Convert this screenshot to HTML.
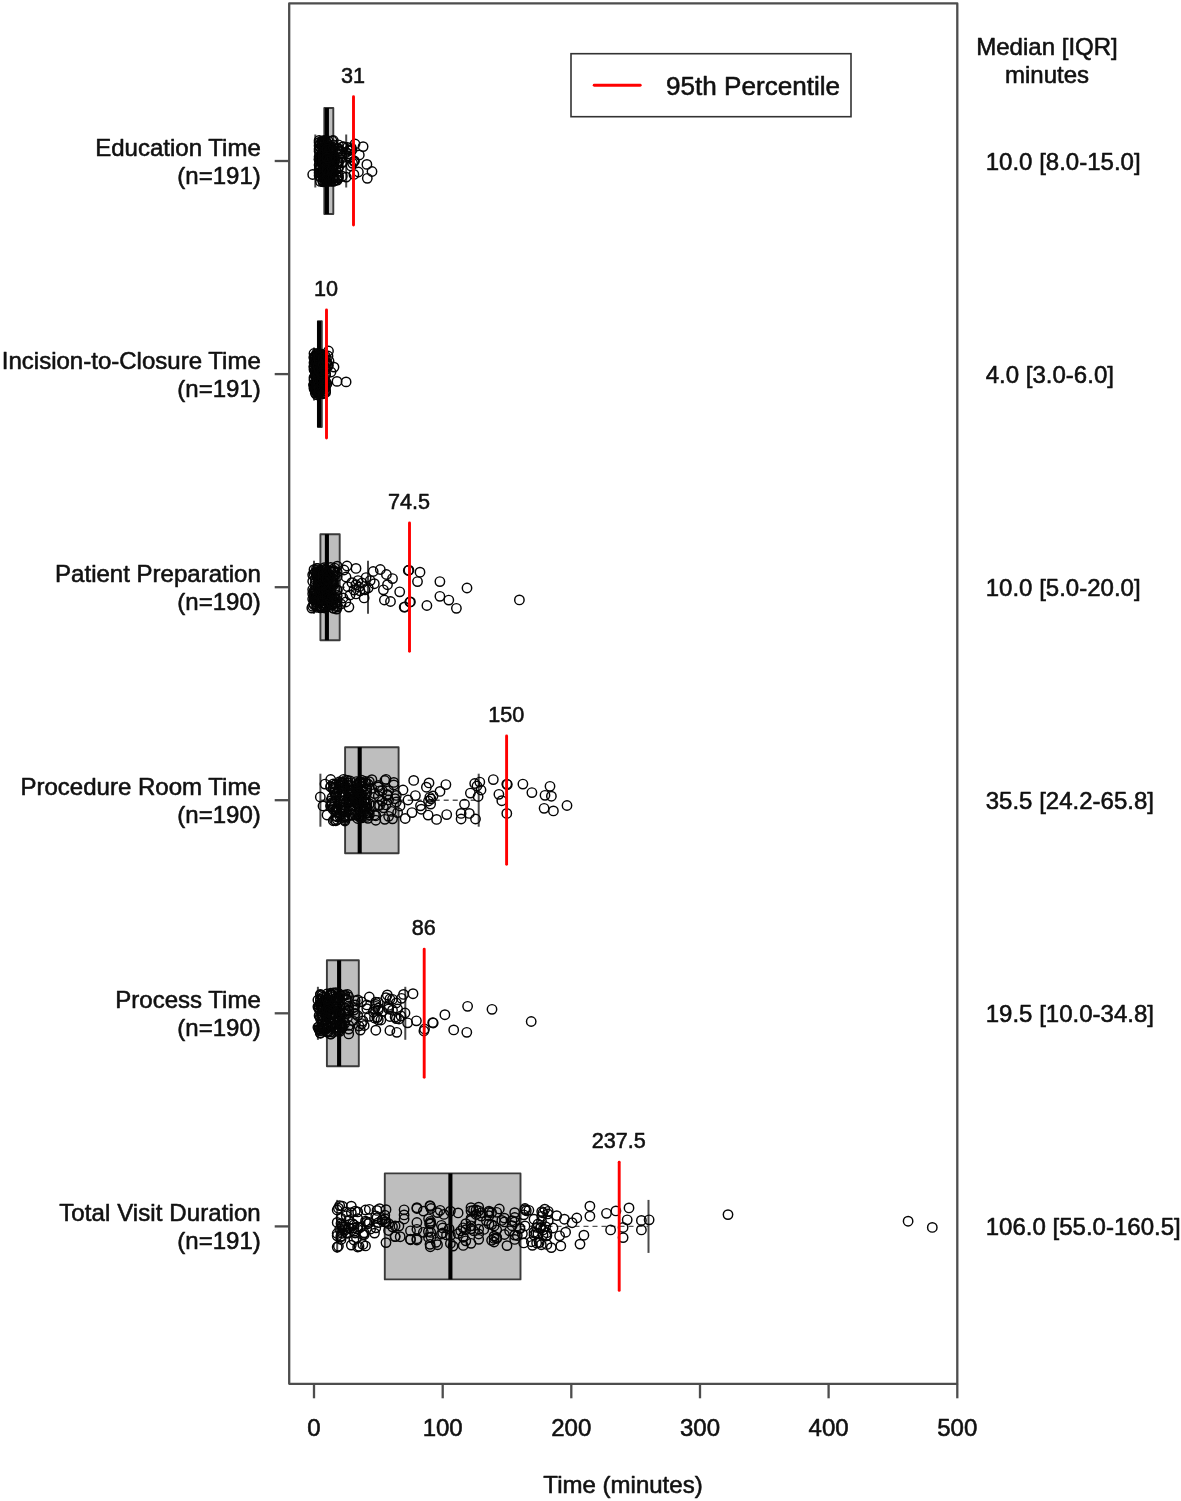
<!DOCTYPE html>
<html><head><meta charset="utf-8"><title>Time boxplot</title>
<style>
html,body{margin:0;padding:0;background:#fff}
svg{display:block;filter:blur(.45px)}
text{font-family:"Liberation Sans",Arial,Helvetica,sans-serif;fill:#111;stroke:#111;stroke-width:.55;stroke-linejoin:round}
.fr{stroke:#4d4d4d;stroke-width:2.3;fill:none;stroke-linejoin:round;stroke-linecap:butt}
.pt{fill:none;stroke:#050505;stroke-width:1.45}
.bx{fill:#bebebe;stroke:#3a3a3a;stroke-width:1.9;stroke-linejoin:round}
.md{stroke:#000;stroke-width:4.1}
.wh{stroke:#555;stroke-width:1.4;stroke-dasharray:5 4;fill:none}
.cp{stroke:#4a4a4a;stroke-width:2}
.rd{stroke:#f00;stroke-width:2.9;stroke-linecap:round}
</style></head><body>
<svg width="1181" height="1501" viewBox="0 0 1181 1501">
<rect width="1181" height="1501" fill="#fff"/>

<rect class="fr" x="289.2" y="3.4" width="668.1" height="1380.4"/>
<line class="fr" x1="314.0" y1="1383.8" x2="314.0" y2="1398.3"/>
<text transform="translate(314.0 1435.5) scale(1.045 1)" font-size="23.0" text-anchor="middle">0</text>
<line class="fr" x1="442.7" y1="1383.8" x2="442.7" y2="1398.3"/>
<text transform="translate(442.7 1435.5) scale(1.045 1)" font-size="23.0" text-anchor="middle">100</text>
<line class="fr" x1="571.3" y1="1383.8" x2="571.3" y2="1398.3"/>
<text transform="translate(571.3 1435.5) scale(1.045 1)" font-size="23.0" text-anchor="middle">200</text>
<line class="fr" x1="700.0" y1="1383.8" x2="700.0" y2="1398.3"/>
<text transform="translate(700.0 1435.5) scale(1.045 1)" font-size="23.0" text-anchor="middle">300</text>
<line class="fr" x1="828.6" y1="1383.8" x2="828.6" y2="1398.3"/>
<text transform="translate(828.6 1435.5) scale(1.045 1)" font-size="23.0" text-anchor="middle">400</text>
<line class="fr" x1="957.3" y1="1383.8" x2="957.3" y2="1398.3"/>
<text transform="translate(957.3 1435.5) scale(1.045 1)" font-size="23.0" text-anchor="middle">500</text>
<text transform="translate(623.0 1492.5) scale(1.045 1)" font-size="23.0" text-anchor="middle">Time (minutes)</text>
<line class="fr" x1="274.7" y1="161.0" x2="289.2" y2="161.0"/>
<text transform="translate(260.8 155.7) scale(1.045 1)" font-size="23.0" text-anchor="end">Education Time</text>
<text transform="translate(260.8 183.8) scale(1.045 1)" font-size="23.0" text-anchor="end">(n=191)</text>
<text transform="translate(985.7 169.7) scale(1.045 1)" font-size="23.0">10.0 [8.0-15.0]</text>
<rect class="bx" x="324.3" y="108.0" width="9.0" height="106.0"/>
<line class="md" x1="326.9" y1="108.0" x2="326.9" y2="214.0"/>
<line class="wh" x1="315.3" y1="161.0" x2="324.3" y2="161.0"/>
<line class="wh" x1="333.3" y1="161.0" x2="346.2" y2="161.0"/>
<line class="cp" x1="315.3" y1="134.5" x2="315.3" y2="187.5"/>
<line class="cp" x1="346.2" y1="134.5" x2="346.2" y2="187.5"/>
<g class="pt"><circle cx="323.0" cy="176.4" r="4.7"/><circle cx="323.0" cy="159.0" r="4.7"/><circle cx="320.4" cy="147.8" r="4.7"/><circle cx="323.0" cy="166.5" r="4.7"/><circle cx="320.4" cy="144.0" r="4.7"/><circle cx="321.7" cy="146.0" r="4.7"/><circle cx="319.1" cy="165.0" r="4.7"/><circle cx="323.0" cy="180.5" r="4.7"/><circle cx="320.4" cy="166.2" r="4.7"/><circle cx="319.1" cy="142.5" r="4.7"/><circle cx="320.4" cy="176.9" r="4.7"/><circle cx="319.1" cy="172.7" r="4.7"/><circle cx="321.7" cy="158.5" r="4.7"/><circle cx="320.4" cy="161.8" r="4.7"/><circle cx="321.7" cy="161.0" r="4.7"/><circle cx="319.1" cy="159.2" r="4.7"/><circle cx="321.7" cy="157.1" r="4.7"/><circle cx="319.1" cy="169.7" r="4.7"/><circle cx="321.7" cy="171.8" r="4.7"/><circle cx="321.7" cy="141.2" r="4.7"/><circle cx="319.1" cy="156.8" r="4.7"/><circle cx="321.7" cy="156.2" r="4.7"/><circle cx="319.1" cy="175.6" r="4.7"/><circle cx="319.1" cy="149.0" r="4.7"/><circle cx="319.1" cy="159.7" r="4.7"/><circle cx="323.0" cy="157.6" r="4.7"/><circle cx="320.4" cy="172.7" r="4.7"/><circle cx="321.7" cy="154.1" r="4.7"/><circle cx="321.7" cy="154.0" r="4.7"/><circle cx="323.0" cy="171.8" r="4.7"/><circle cx="319.1" cy="145.7" r="4.7"/><circle cx="319.1" cy="140.5" r="4.7"/><circle cx="323.0" cy="173.5" r="4.7"/><circle cx="320.4" cy="168.6" r="4.7"/><circle cx="320.4" cy="158.8" r="4.7"/><circle cx="320.4" cy="181.4" r="4.7"/><circle cx="320.4" cy="157.6" r="4.7"/><circle cx="323.0" cy="144.9" r="4.7"/><circle cx="323.0" cy="181.6" r="4.7"/><circle cx="319.1" cy="151.3" r="4.7"/><circle cx="325.6" cy="181.9" r="4.7"/><circle cx="323.0" cy="148.8" r="4.7"/><circle cx="326.9" cy="181.8" r="4.7"/><circle cx="323.0" cy="141.8" r="4.7"/><circle cx="324.3" cy="149.0" r="4.7"/><circle cx="325.6" cy="140.4" r="4.7"/><circle cx="325.6" cy="174.9" r="4.7"/><circle cx="326.9" cy="143.1" r="4.7"/><circle cx="323.0" cy="148.8" r="4.7"/><circle cx="324.3" cy="140.7" r="4.7"/><circle cx="325.6" cy="155.6" r="4.7"/><circle cx="326.9" cy="145.3" r="4.7"/><circle cx="326.9" cy="175.0" r="4.7"/><circle cx="324.3" cy="176.4" r="4.7"/><circle cx="324.3" cy="166.3" r="4.7"/><circle cx="325.6" cy="178.2" r="4.7"/><circle cx="324.3" cy="170.5" r="4.7"/><circle cx="324.3" cy="171.1" r="4.7"/><circle cx="324.3" cy="168.9" r="4.7"/><circle cx="326.9" cy="177.1" r="4.7"/><circle cx="323.0" cy="157.7" r="4.7"/><circle cx="323.0" cy="144.6" r="4.7"/><circle cx="325.6" cy="150.0" r="4.7"/><circle cx="326.9" cy="150.8" r="4.7"/><circle cx="326.9" cy="152.3" r="4.7"/><circle cx="324.3" cy="179.0" r="4.7"/><circle cx="323.0" cy="145.3" r="4.7"/><circle cx="326.9" cy="163.5" r="4.7"/><circle cx="323.0" cy="151.8" r="4.7"/><circle cx="324.3" cy="171.5" r="4.7"/><circle cx="323.0" cy="151.3" r="4.7"/><circle cx="326.9" cy="150.5" r="4.7"/><circle cx="323.0" cy="147.4" r="4.7"/><circle cx="325.6" cy="162.3" r="4.7"/><circle cx="324.3" cy="143.9" r="4.7"/><circle cx="324.3" cy="177.4" r="4.7"/><circle cx="325.6" cy="167.6" r="4.7"/><circle cx="324.3" cy="164.8" r="4.7"/><circle cx="323.0" cy="159.9" r="4.7"/><circle cx="325.6" cy="169.4" r="4.7"/><circle cx="323.0" cy="140.9" r="4.7"/><circle cx="323.0" cy="160.3" r="4.7"/><circle cx="325.6" cy="153.4" r="4.7"/><circle cx="323.0" cy="143.2" r="4.7"/><circle cx="325.6" cy="171.0" r="4.7"/><circle cx="324.3" cy="173.3" r="4.7"/><circle cx="325.6" cy="154.8" r="4.7"/><circle cx="326.9" cy="177.8" r="4.7"/><circle cx="326.9" cy="179.7" r="4.7"/><circle cx="323.0" cy="176.3" r="4.7"/><circle cx="323.0" cy="166.2" r="4.7"/><circle cx="326.9" cy="155.9" r="4.7"/><circle cx="323.0" cy="165.6" r="4.7"/><circle cx="323.0" cy="143.8" r="4.7"/><circle cx="323.0" cy="181.7" r="4.7"/><circle cx="326.9" cy="170.6" r="4.7"/><circle cx="326.9" cy="179.2" r="4.7"/><circle cx="326.9" cy="158.5" r="4.7"/><circle cx="323.0" cy="161.8" r="4.7"/><circle cx="323.0" cy="153.0" r="4.7"/><circle cx="323.0" cy="160.2" r="4.7"/><circle cx="324.3" cy="180.2" r="4.7"/><circle cx="323.0" cy="160.9" r="4.7"/><circle cx="326.9" cy="150.7" r="4.7"/><circle cx="323.0" cy="155.5" r="4.7"/><circle cx="324.3" cy="168.5" r="4.7"/><circle cx="324.3" cy="161.8" r="4.7"/><circle cx="325.6" cy="167.7" r="4.7"/><circle cx="326.9" cy="160.9" r="4.7"/><circle cx="324.3" cy="153.7" r="4.7"/><circle cx="333.3" cy="150.5" r="4.7"/><circle cx="333.3" cy="158.1" r="4.7"/><circle cx="328.2" cy="177.0" r="4.7"/><circle cx="330.7" cy="149.2" r="4.7"/><circle cx="329.4" cy="148.8" r="4.7"/><circle cx="328.2" cy="160.9" r="4.7"/><circle cx="326.9" cy="169.9" r="4.7"/><circle cx="329.4" cy="174.5" r="4.7"/><circle cx="326.9" cy="158.9" r="4.7"/><circle cx="329.4" cy="178.9" r="4.7"/><circle cx="330.7" cy="156.1" r="4.7"/><circle cx="332.0" cy="160.7" r="4.7"/><circle cx="329.4" cy="170.1" r="4.7"/><circle cx="332.0" cy="159.0" r="4.7"/><circle cx="326.9" cy="174.8" r="4.7"/><circle cx="329.4" cy="176.7" r="4.7"/><circle cx="326.9" cy="168.5" r="4.7"/><circle cx="329.4" cy="164.0" r="4.7"/><circle cx="329.4" cy="167.3" r="4.7"/><circle cx="332.0" cy="140.8" r="4.7"/><circle cx="328.2" cy="157.0" r="4.7"/><circle cx="328.2" cy="141.0" r="4.7"/><circle cx="329.4" cy="150.0" r="4.7"/><circle cx="328.2" cy="173.5" r="4.7"/><circle cx="333.3" cy="144.8" r="4.7"/><circle cx="326.9" cy="166.5" r="4.7"/><circle cx="333.3" cy="166.9" r="4.7"/><circle cx="329.4" cy="180.3" r="4.7"/><circle cx="333.3" cy="148.3" r="4.7"/><circle cx="330.7" cy="150.8" r="4.7"/><circle cx="333.3" cy="140.5" r="4.7"/><circle cx="330.7" cy="162.5" r="4.7"/><circle cx="326.9" cy="147.5" r="4.7"/><circle cx="329.4" cy="172.7" r="4.7"/><circle cx="332.0" cy="169.3" r="4.7"/><circle cx="332.0" cy="161.0" r="4.7"/><circle cx="328.2" cy="156.5" r="4.7"/><circle cx="333.3" cy="178.1" r="4.7"/><circle cx="326.9" cy="157.2" r="4.7"/><circle cx="333.3" cy="156.3" r="4.7"/><circle cx="330.7" cy="159.0" r="4.7"/><circle cx="333.3" cy="177.3" r="4.7"/><circle cx="326.9" cy="155.8" r="4.7"/><circle cx="332.0" cy="167.4" r="4.7"/><circle cx="332.0" cy="173.5" r="4.7"/><circle cx="329.4" cy="159.5" r="4.7"/><circle cx="333.3" cy="181.3" r="4.7"/><circle cx="326.9" cy="170.3" r="4.7"/><circle cx="333.3" cy="178.8" r="4.7"/><circle cx="326.9" cy="149.0" r="4.7"/><circle cx="330.7" cy="181.2" r="4.7"/><circle cx="329.4" cy="162.6" r="4.7"/><circle cx="329.4" cy="151.0" r="4.7"/><circle cx="333.3" cy="175.9" r="4.7"/><circle cx="329.4" cy="161.2" r="4.7"/><circle cx="326.9" cy="158.5" r="4.7"/><circle cx="332.0" cy="157.7" r="4.7"/><circle cx="329.4" cy="160.5" r="4.7"/><circle cx="326.9" cy="149.2" r="4.7"/><circle cx="326.9" cy="158.0" r="4.7"/><circle cx="333.3" cy="147.3" r="4.7"/><circle cx="335.9" cy="168.8" r="4.7"/><circle cx="334.6" cy="159.8" r="4.7"/><circle cx="338.4" cy="177.8" r="4.7"/><circle cx="338.4" cy="175.3" r="4.7"/><circle cx="337.2" cy="179.7" r="4.7"/><circle cx="337.2" cy="164.3" r="4.7"/><circle cx="333.3" cy="171.8" r="4.7"/><circle cx="337.2" cy="162.1" r="4.7"/><circle cx="335.9" cy="174.9" r="4.7"/><circle cx="338.4" cy="166.8" r="4.7"/><circle cx="338.4" cy="161.6" r="4.7"/><circle cx="338.4" cy="150.8" r="4.7"/><circle cx="337.2" cy="180.1" r="4.7"/><circle cx="338.4" cy="148.7" r="4.7"/><circle cx="334.6" cy="180.7" r="4.7"/><circle cx="338.4" cy="151.5" r="4.7"/><circle cx="337.2" cy="148.4" r="4.7"/><circle cx="338.4" cy="144.8" r="4.7"/><circle cx="333.3" cy="165.4" r="4.7"/><circle cx="338.4" cy="162.5" r="4.7"/><circle cx="338.4" cy="161.6" r="4.7"/><circle cx="342.3" cy="162.7" r="4.7"/><circle cx="343.6" cy="146.6" r="4.7"/><circle cx="338.4" cy="168.3" r="4.7"/><circle cx="338.4" cy="177.4" r="4.7"/><circle cx="342.3" cy="157.7" r="4.7"/><circle cx="346.2" cy="177.1" r="4.7"/><circle cx="341.0" cy="151.4" r="4.7"/><circle cx="342.3" cy="146.8" r="4.7"/><circle cx="342.3" cy="176.2" r="4.7"/><circle cx="342.3" cy="161.9" r="4.7"/><circle cx="338.4" cy="149.3" r="4.7"/><circle cx="351.3" cy="147.8" r="4.7"/><circle cx="348.7" cy="150.6" r="4.7"/><circle cx="353.9" cy="174.4" r="4.7"/><circle cx="346.2" cy="152.4" r="4.7"/><circle cx="347.5" cy="147.3" r="4.7"/><circle cx="348.7" cy="156.0" r="4.7"/><circle cx="348.7" cy="153.8" r="4.7"/><circle cx="350.0" cy="149.9" r="4.7"/><circle cx="352.6" cy="163.3" r="4.7"/><circle cx="353.9" cy="161.3" r="4.7"/><circle cx="312.7" cy="174.5" r="4.7"/><circle cx="363.1" cy="146.6" r="4.7"/><circle cx="366.9" cy="164.4" r="4.7"/><circle cx="372.0" cy="171.5" r="4.7"/><circle cx="367.3" cy="178.3" r="4.7"/><circle cx="358.4" cy="172.0" r="4.7"/><circle cx="355.0" cy="144.0" r="4.7"/><circle cx="359.3" cy="155.0" r="4.7"/><circle cx="352.0" cy="150.0" r="4.7"/><circle cx="351.0" cy="166.0" r="4.7"/><circle cx="354.5" cy="161.0" r="4.7"/><circle cx="349.0" cy="158.0" r="4.7"/></g>
<line class="rd" x1="353.5" y1="96.8" x2="353.5" y2="225.0"/>
<text transform="translate(353.1 83.0) scale(1.000 1)" font-size="21.6" text-anchor="middle">31</text>
<line class="fr" x1="274.7" y1="374.1" x2="289.2" y2="374.1"/>
<text transform="translate(260.8 368.8) scale(1.045 1)" font-size="23.0" text-anchor="end">Incision-to-Closure Time</text>
<text transform="translate(260.8 396.9) scale(1.045 1)" font-size="23.0" text-anchor="end">(n=191)</text>
<text transform="translate(985.7 382.8) scale(1.045 1)" font-size="23.0">4.0 [3.0-6.0]</text>
<rect class="bx" x="317.9" y="321.1" width="3.9" height="106.0"/>
<line class="md" x1="319.1" y1="321.1" x2="319.1" y2="427.1"/>
<line class="wh" x1="314.0" y1="374.1" x2="317.9" y2="374.1"/>
<line class="wh" x1="321.7" y1="374.1" x2="326.9" y2="374.1"/>
<line class="cp" x1="314.0" y1="347.6" x2="314.0" y2="400.6"/>
<line class="cp" x1="326.9" y1="347.6" x2="326.9" y2="400.6"/>
<g class="pt"><circle cx="316.6" cy="383.2" r="4.7"/><circle cx="317.9" cy="354.1" r="4.7"/><circle cx="317.9" cy="387.8" r="4.7"/><circle cx="315.3" cy="375.7" r="4.7"/><circle cx="315.3" cy="375.3" r="4.7"/><circle cx="315.3" cy="362.9" r="4.7"/><circle cx="316.6" cy="391.0" r="4.7"/><circle cx="316.6" cy="378.4" r="4.7"/><circle cx="315.3" cy="362.3" r="4.7"/><circle cx="315.3" cy="390.4" r="4.7"/><circle cx="315.3" cy="390.4" r="4.7"/><circle cx="315.3" cy="383.6" r="4.7"/><circle cx="316.6" cy="369.4" r="4.7"/><circle cx="317.9" cy="388.1" r="4.7"/><circle cx="317.9" cy="375.9" r="4.7"/><circle cx="315.3" cy="361.5" r="4.7"/><circle cx="314.0" cy="357.1" r="4.7"/><circle cx="316.6" cy="391.4" r="4.7"/><circle cx="316.6" cy="357.9" r="4.7"/><circle cx="316.6" cy="374.2" r="4.7"/><circle cx="315.3" cy="386.8" r="4.7"/><circle cx="317.9" cy="357.6" r="4.7"/><circle cx="314.0" cy="385.1" r="4.7"/><circle cx="317.9" cy="359.3" r="4.7"/><circle cx="315.3" cy="357.9" r="4.7"/><circle cx="315.3" cy="388.4" r="4.7"/><circle cx="316.6" cy="392.0" r="4.7"/><circle cx="314.0" cy="377.5" r="4.7"/><circle cx="315.3" cy="393.1" r="4.7"/><circle cx="317.9" cy="356.4" r="4.7"/><circle cx="314.0" cy="366.8" r="4.7"/><circle cx="317.9" cy="371.0" r="4.7"/><circle cx="316.6" cy="371.2" r="4.7"/><circle cx="316.6" cy="353.7" r="4.7"/><circle cx="314.0" cy="388.6" r="4.7"/><circle cx="315.3" cy="370.2" r="4.7"/><circle cx="316.6" cy="384.2" r="4.7"/><circle cx="317.9" cy="391.8" r="4.7"/><circle cx="315.3" cy="357.1" r="4.7"/><circle cx="314.0" cy="366.7" r="4.7"/><circle cx="314.0" cy="386.8" r="4.7"/><circle cx="317.9" cy="377.0" r="4.7"/><circle cx="315.3" cy="374.3" r="4.7"/><circle cx="316.6" cy="386.9" r="4.7"/><circle cx="316.6" cy="364.8" r="4.7"/><circle cx="314.0" cy="384.4" r="4.7"/><circle cx="315.3" cy="387.3" r="4.7"/><circle cx="317.9" cy="358.7" r="4.7"/><circle cx="316.6" cy="390.1" r="4.7"/><circle cx="316.6" cy="385.3" r="4.7"/><circle cx="315.3" cy="370.1" r="4.7"/><circle cx="315.3" cy="356.1" r="4.7"/><circle cx="316.6" cy="365.8" r="4.7"/><circle cx="314.0" cy="353.5" r="4.7"/><circle cx="316.6" cy="394.7" r="4.7"/><circle cx="314.0" cy="362.8" r="4.7"/><circle cx="316.6" cy="367.3" r="4.7"/><circle cx="317.9" cy="377.0" r="4.7"/><circle cx="314.0" cy="369.5" r="4.7"/><circle cx="317.9" cy="380.1" r="4.7"/><circle cx="314.0" cy="385.1" r="4.7"/><circle cx="314.0" cy="357.9" r="4.7"/><circle cx="314.0" cy="384.1" r="4.7"/><circle cx="316.6" cy="371.7" r="4.7"/><circle cx="314.0" cy="385.1" r="4.7"/><circle cx="317.9" cy="353.6" r="4.7"/><circle cx="316.6" cy="363.6" r="4.7"/><circle cx="316.6" cy="376.2" r="4.7"/><circle cx="317.9" cy="393.7" r="4.7"/><circle cx="314.0" cy="379.9" r="4.7"/><circle cx="317.9" cy="376.2" r="4.7"/><circle cx="317.9" cy="369.3" r="4.7"/><circle cx="319.1" cy="369.3" r="4.7"/><circle cx="319.1" cy="389.0" r="4.7"/><circle cx="317.9" cy="371.1" r="4.7"/><circle cx="321.7" cy="370.8" r="4.7"/><circle cx="321.7" cy="378.2" r="4.7"/><circle cx="320.4" cy="375.4" r="4.7"/><circle cx="321.7" cy="380.6" r="4.7"/><circle cx="320.4" cy="381.0" r="4.7"/><circle cx="320.4" cy="354.2" r="4.7"/><circle cx="319.1" cy="377.7" r="4.7"/><circle cx="319.1" cy="370.3" r="4.7"/><circle cx="321.7" cy="355.3" r="4.7"/><circle cx="320.4" cy="384.5" r="4.7"/><circle cx="317.9" cy="377.5" r="4.7"/><circle cx="320.4" cy="356.2" r="4.7"/><circle cx="319.1" cy="371.1" r="4.7"/><circle cx="321.7" cy="363.6" r="4.7"/><circle cx="319.1" cy="355.0" r="4.7"/><circle cx="317.9" cy="392.5" r="4.7"/><circle cx="321.7" cy="359.2" r="4.7"/><circle cx="319.1" cy="378.5" r="4.7"/><circle cx="317.9" cy="355.2" r="4.7"/><circle cx="321.7" cy="372.2" r="4.7"/><circle cx="319.1" cy="389.3" r="4.7"/><circle cx="320.4" cy="375.3" r="4.7"/><circle cx="317.9" cy="368.4" r="4.7"/><circle cx="319.1" cy="381.2" r="4.7"/><circle cx="321.7" cy="378.3" r="4.7"/><circle cx="321.7" cy="368.4" r="4.7"/><circle cx="319.1" cy="393.1" r="4.7"/><circle cx="319.1" cy="363.1" r="4.7"/><circle cx="317.9" cy="374.2" r="4.7"/><circle cx="320.4" cy="386.0" r="4.7"/><circle cx="320.4" cy="364.6" r="4.7"/><circle cx="319.1" cy="379.7" r="4.7"/><circle cx="319.1" cy="361.1" r="4.7"/><circle cx="319.1" cy="374.2" r="4.7"/><circle cx="319.1" cy="390.0" r="4.7"/><circle cx="317.9" cy="379.5" r="4.7"/><circle cx="317.9" cy="364.5" r="4.7"/><circle cx="321.7" cy="354.2" r="4.7"/><circle cx="317.9" cy="357.4" r="4.7"/><circle cx="320.4" cy="356.1" r="4.7"/><circle cx="317.9" cy="391.4" r="4.7"/><circle cx="319.1" cy="376.2" r="4.7"/><circle cx="320.4" cy="373.4" r="4.7"/><circle cx="320.4" cy="361.9" r="4.7"/><circle cx="320.4" cy="373.9" r="4.7"/><circle cx="319.1" cy="388.3" r="4.7"/><circle cx="317.9" cy="386.8" r="4.7"/><circle cx="321.7" cy="387.1" r="4.7"/><circle cx="319.1" cy="371.8" r="4.7"/><circle cx="320.4" cy="369.5" r="4.7"/><circle cx="319.1" cy="368.6" r="4.7"/><circle cx="320.4" cy="365.3" r="4.7"/><circle cx="319.1" cy="371.1" r="4.7"/><circle cx="320.4" cy="377.5" r="4.7"/><circle cx="321.7" cy="389.9" r="4.7"/><circle cx="317.9" cy="375.9" r="4.7"/><circle cx="321.7" cy="376.8" r="4.7"/><circle cx="321.7" cy="387.3" r="4.7"/><circle cx="321.7" cy="365.7" r="4.7"/><circle cx="317.9" cy="356.3" r="4.7"/><circle cx="319.1" cy="391.3" r="4.7"/><circle cx="317.9" cy="382.3" r="4.7"/><circle cx="321.7" cy="383.5" r="4.7"/><circle cx="320.4" cy="365.0" r="4.7"/><circle cx="319.1" cy="362.3" r="4.7"/><circle cx="320.4" cy="368.5" r="4.7"/><circle cx="317.9" cy="366.6" r="4.7"/><circle cx="321.7" cy="377.0" r="4.7"/><circle cx="320.4" cy="371.5" r="4.7"/><circle cx="320.4" cy="372.3" r="4.7"/><circle cx="319.1" cy="369.9" r="4.7"/><circle cx="319.1" cy="356.6" r="4.7"/><circle cx="320.4" cy="354.1" r="4.7"/><circle cx="321.7" cy="377.7" r="4.7"/><circle cx="319.1" cy="384.1" r="4.7"/><circle cx="320.4" cy="386.6" r="4.7"/><circle cx="319.1" cy="388.2" r="4.7"/><circle cx="319.1" cy="360.5" r="4.7"/><circle cx="321.7" cy="390.1" r="4.7"/><circle cx="320.4" cy="387.2" r="4.7"/><circle cx="323.0" cy="374.7" r="4.7"/><circle cx="323.0" cy="376.8" r="4.7"/><circle cx="321.7" cy="380.1" r="4.7"/><circle cx="325.6" cy="356.7" r="4.7"/><circle cx="324.3" cy="385.6" r="4.7"/><circle cx="321.7" cy="367.5" r="4.7"/><circle cx="324.3" cy="383.6" r="4.7"/><circle cx="324.3" cy="357.5" r="4.7"/><circle cx="323.0" cy="358.0" r="4.7"/><circle cx="325.6" cy="363.9" r="4.7"/><circle cx="323.0" cy="373.7" r="4.7"/><circle cx="324.3" cy="384.7" r="4.7"/><circle cx="325.6" cy="368.1" r="4.7"/><circle cx="324.3" cy="381.0" r="4.7"/><circle cx="325.6" cy="373.6" r="4.7"/><circle cx="321.7" cy="382.4" r="4.7"/><circle cx="321.7" cy="370.5" r="4.7"/><circle cx="324.3" cy="388.2" r="4.7"/><circle cx="325.6" cy="387.5" r="4.7"/><circle cx="325.6" cy="392.4" r="4.7"/><circle cx="321.7" cy="375.1" r="4.7"/><circle cx="321.7" cy="386.2" r="4.7"/><circle cx="325.6" cy="391.0" r="4.7"/><circle cx="323.0" cy="363.9" r="4.7"/><circle cx="323.0" cy="393.7" r="4.7"/><circle cx="325.6" cy="381.5" r="4.7"/><circle cx="324.3" cy="362.3" r="4.7"/><circle cx="325.6" cy="375.3" r="4.7"/><circle cx="324.3" cy="392.9" r="4.7"/><circle cx="321.7" cy="373.0" r="4.7"/><circle cx="328.2" cy="364.9" r="4.7"/><circle cx="328.2" cy="365.8" r="4.7"/><circle cx="325.6" cy="384.0" r="4.7"/><circle cx="326.9" cy="362.5" r="4.7"/><circle cx="326.9" cy="383.9" r="4.7"/><circle cx="325.6" cy="369.6" r="4.7"/><circle cx="328.5" cy="351.0" r="4.7"/><circle cx="328.0" cy="356.0" r="4.7"/><circle cx="329.0" cy="361.0" r="4.7"/><circle cx="327.5" cy="365.0" r="4.7"/><circle cx="346.1" cy="381.9" r="4.7"/><circle cx="337.0" cy="381.4" r="4.7"/><circle cx="334.0" cy="367.1" r="4.7"/><circle cx="331.0" cy="372.0" r="4.7"/></g>
<line class="rd" x1="326.5" y1="309.9" x2="326.5" y2="438.1"/>
<text transform="translate(326.1 296.1) scale(1.000 1)" font-size="21.6" text-anchor="middle">10</text>
<line class="fr" x1="274.7" y1="587.2" x2="289.2" y2="587.2"/>
<text transform="translate(260.8 581.9) scale(1.045 1)" font-size="23.0" text-anchor="end">Patient Preparation</text>
<text transform="translate(260.8 610.0) scale(1.045 1)" font-size="23.0" text-anchor="end">(n=190)</text>
<text transform="translate(985.7 595.9) scale(1.045 1)" font-size="23.0">10.0 [5.0-20.0]</text>
<rect class="bx" x="320.4" y="534.2" width="19.3" height="106.0"/>
<line class="md" x1="326.9" y1="534.2" x2="326.9" y2="640.2"/>
<line class="wh" x1="314.0" y1="587.2" x2="320.4" y2="587.2"/>
<line class="wh" x1="339.7" y1="587.2" x2="368.0" y2="587.2"/>
<line class="cp" x1="314.0" y1="560.7" x2="314.0" y2="613.7"/>
<line class="cp" x1="368.0" y1="560.7" x2="368.0" y2="613.7"/>
<g class="pt"><circle cx="314.0" cy="574.0" r="4.7"/><circle cx="314.0" cy="590.9" r="4.7"/><circle cx="317.9" cy="596.3" r="4.7"/><circle cx="317.9" cy="587.6" r="4.7"/><circle cx="316.6" cy="574.0" r="4.7"/><circle cx="315.3" cy="583.1" r="4.7"/><circle cx="320.4" cy="605.6" r="4.7"/><circle cx="319.1" cy="589.2" r="4.7"/><circle cx="320.4" cy="589.3" r="4.7"/><circle cx="320.4" cy="577.1" r="4.7"/><circle cx="316.6" cy="604.6" r="4.7"/><circle cx="315.3" cy="593.9" r="4.7"/><circle cx="320.4" cy="606.4" r="4.7"/><circle cx="316.6" cy="602.4" r="4.7"/><circle cx="316.6" cy="568.3" r="4.7"/><circle cx="314.0" cy="599.9" r="4.7"/><circle cx="316.6" cy="607.2" r="4.7"/><circle cx="320.4" cy="587.9" r="4.7"/><circle cx="315.3" cy="599.3" r="4.7"/><circle cx="312.7" cy="593.8" r="4.7"/><circle cx="314.0" cy="603.7" r="4.7"/><circle cx="320.4" cy="586.1" r="4.7"/><circle cx="315.3" cy="585.1" r="4.7"/><circle cx="314.0" cy="596.2" r="4.7"/><circle cx="317.9" cy="602.9" r="4.7"/><circle cx="316.6" cy="572.8" r="4.7"/><circle cx="315.3" cy="572.3" r="4.7"/><circle cx="320.4" cy="600.2" r="4.7"/><circle cx="314.0" cy="593.0" r="4.7"/><circle cx="317.9" cy="577.4" r="4.7"/><circle cx="317.9" cy="568.4" r="4.7"/><circle cx="317.9" cy="598.6" r="4.7"/><circle cx="312.7" cy="574.8" r="4.7"/><circle cx="320.4" cy="572.5" r="4.7"/><circle cx="314.0" cy="569.7" r="4.7"/><circle cx="315.3" cy="592.0" r="4.7"/><circle cx="317.9" cy="570.3" r="4.7"/><circle cx="316.6" cy="595.3" r="4.7"/><circle cx="312.7" cy="606.3" r="4.7"/><circle cx="317.9" cy="589.0" r="4.7"/><circle cx="317.9" cy="579.0" r="4.7"/><circle cx="320.4" cy="574.1" r="4.7"/><circle cx="314.0" cy="604.7" r="4.7"/><circle cx="312.7" cy="599.0" r="4.7"/><circle cx="316.6" cy="575.0" r="4.7"/><circle cx="317.9" cy="583.6" r="4.7"/><circle cx="316.6" cy="572.8" r="4.7"/><circle cx="320.4" cy="606.7" r="4.7"/><circle cx="315.3" cy="579.3" r="4.7"/><circle cx="312.7" cy="589.6" r="4.7"/><circle cx="316.6" cy="594.2" r="4.7"/><circle cx="312.7" cy="581.3" r="4.7"/><circle cx="319.1" cy="572.1" r="4.7"/><circle cx="319.1" cy="582.8" r="4.7"/><circle cx="316.6" cy="597.6" r="4.7"/><circle cx="320.4" cy="601.0" r="4.7"/><circle cx="319.1" cy="584.9" r="4.7"/><circle cx="320.4" cy="582.0" r="4.7"/><circle cx="319.1" cy="586.2" r="4.7"/><circle cx="315.3" cy="589.9" r="4.7"/><circle cx="316.6" cy="598.6" r="4.7"/><circle cx="320.4" cy="607.8" r="4.7"/><circle cx="320.4" cy="596.4" r="4.7"/><circle cx="317.9" cy="572.6" r="4.7"/><circle cx="326.9" cy="582.0" r="4.7"/><circle cx="325.6" cy="597.7" r="4.7"/><circle cx="323.0" cy="597.9" r="4.7"/><circle cx="325.6" cy="594.2" r="4.7"/><circle cx="323.0" cy="574.1" r="4.7"/><circle cx="324.3" cy="596.9" r="4.7"/><circle cx="323.0" cy="579.2" r="4.7"/><circle cx="323.0" cy="589.8" r="4.7"/><circle cx="326.9" cy="593.1" r="4.7"/><circle cx="324.3" cy="600.9" r="4.7"/><circle cx="320.4" cy="570.5" r="4.7"/><circle cx="325.6" cy="570.2" r="4.7"/><circle cx="326.9" cy="592.7" r="4.7"/><circle cx="321.7" cy="573.8" r="4.7"/><circle cx="324.3" cy="567.7" r="4.7"/><circle cx="324.3" cy="591.1" r="4.7"/><circle cx="320.4" cy="570.4" r="4.7"/><circle cx="320.4" cy="572.8" r="4.7"/><circle cx="320.4" cy="584.4" r="4.7"/><circle cx="320.4" cy="580.5" r="4.7"/><circle cx="324.3" cy="605.1" r="4.7"/><circle cx="321.7" cy="593.4" r="4.7"/><circle cx="321.7" cy="600.7" r="4.7"/><circle cx="324.3" cy="586.5" r="4.7"/><circle cx="324.3" cy="592.4" r="4.7"/><circle cx="326.9" cy="583.0" r="4.7"/><circle cx="326.9" cy="579.5" r="4.7"/><circle cx="321.7" cy="593.9" r="4.7"/><circle cx="325.6" cy="588.5" r="4.7"/><circle cx="323.0" cy="580.1" r="4.7"/><circle cx="323.0" cy="579.1" r="4.7"/><circle cx="324.3" cy="570.7" r="4.7"/><circle cx="324.3" cy="574.8" r="4.7"/><circle cx="323.0" cy="599.3" r="4.7"/><circle cx="320.4" cy="591.9" r="4.7"/><circle cx="321.7" cy="576.9" r="4.7"/><circle cx="325.6" cy="604.1" r="4.7"/><circle cx="325.6" cy="576.0" r="4.7"/><circle cx="325.6" cy="587.2" r="4.7"/><circle cx="321.7" cy="590.3" r="4.7"/><circle cx="321.7" cy="607.6" r="4.7"/><circle cx="325.6" cy="608.1" r="4.7"/><circle cx="326.9" cy="601.3" r="4.7"/><circle cx="321.7" cy="590.0" r="4.7"/><circle cx="320.4" cy="592.5" r="4.7"/><circle cx="321.7" cy="598.8" r="4.7"/><circle cx="321.7" cy="576.5" r="4.7"/><circle cx="325.6" cy="583.7" r="4.7"/><circle cx="323.0" cy="580.0" r="4.7"/><circle cx="323.0" cy="577.4" r="4.7"/><circle cx="320.4" cy="585.2" r="4.7"/><circle cx="326.9" cy="571.9" r="4.7"/><circle cx="325.6" cy="589.0" r="4.7"/><circle cx="325.6" cy="568.9" r="4.7"/><circle cx="323.0" cy="573.3" r="4.7"/><circle cx="333.3" cy="607.9" r="4.7"/><circle cx="329.4" cy="591.5" r="4.7"/><circle cx="326.9" cy="605.4" r="4.7"/><circle cx="326.9" cy="578.3" r="4.7"/><circle cx="329.4" cy="576.3" r="4.7"/><circle cx="332.0" cy="581.5" r="4.7"/><circle cx="328.2" cy="574.0" r="4.7"/><circle cx="332.0" cy="600.3" r="4.7"/><circle cx="330.7" cy="567.5" r="4.7"/><circle cx="328.2" cy="599.1" r="4.7"/><circle cx="333.3" cy="572.0" r="4.7"/><circle cx="333.3" cy="601.8" r="4.7"/><circle cx="330.7" cy="592.0" r="4.7"/><circle cx="333.3" cy="600.0" r="4.7"/><circle cx="326.9" cy="572.9" r="4.7"/><circle cx="330.7" cy="585.9" r="4.7"/><circle cx="328.2" cy="588.4" r="4.7"/><circle cx="326.9" cy="590.1" r="4.7"/><circle cx="328.2" cy="580.3" r="4.7"/><circle cx="328.2" cy="577.3" r="4.7"/><circle cx="332.0" cy="605.3" r="4.7"/><circle cx="326.9" cy="593.2" r="4.7"/><circle cx="326.9" cy="596.5" r="4.7"/><circle cx="328.2" cy="583.1" r="4.7"/><circle cx="330.7" cy="591.4" r="4.7"/><circle cx="330.7" cy="580.7" r="4.7"/><circle cx="332.0" cy="604.5" r="4.7"/><circle cx="332.0" cy="598.0" r="4.7"/><circle cx="329.4" cy="586.6" r="4.7"/><circle cx="330.7" cy="601.4" r="4.7"/><circle cx="333.3" cy="583.4" r="4.7"/><circle cx="330.7" cy="571.1" r="4.7"/><circle cx="326.9" cy="604.2" r="4.7"/><circle cx="332.0" cy="580.1" r="4.7"/><circle cx="332.0" cy="584.4" r="4.7"/><circle cx="326.9" cy="579.7" r="4.7"/><circle cx="326.9" cy="578.6" r="4.7"/><circle cx="332.0" cy="604.0" r="4.7"/><circle cx="333.3" cy="582.0" r="4.7"/><circle cx="329.4" cy="597.8" r="4.7"/><circle cx="335.9" cy="603.3" r="4.7"/><circle cx="333.3" cy="576.5" r="4.7"/><circle cx="337.2" cy="576.4" r="4.7"/><circle cx="337.2" cy="607.0" r="4.7"/><circle cx="337.2" cy="595.4" r="4.7"/><circle cx="334.6" cy="589.1" r="4.7"/><circle cx="337.2" cy="605.7" r="4.7"/><circle cx="333.3" cy="608.2" r="4.7"/><circle cx="335.9" cy="602.6" r="4.7"/><circle cx="337.2" cy="589.9" r="4.7"/><circle cx="334.6" cy="575.5" r="4.7"/><circle cx="337.2" cy="590.0" r="4.7"/><circle cx="333.3" cy="570.3" r="4.7"/><circle cx="334.6" cy="571.4" r="4.7"/><circle cx="337.2" cy="566.2" r="4.7"/><circle cx="334.6" cy="596.8" r="4.7"/><circle cx="333.3" cy="579.8" r="4.7"/><circle cx="333.3" cy="584.7" r="4.7"/><circle cx="337.2" cy="600.4" r="4.7"/><circle cx="337.2" cy="572.1" r="4.7"/><circle cx="334.6" cy="568.1" r="4.7"/><circle cx="333.3" cy="585.3" r="4.7"/><circle cx="519.4" cy="599.9" r="4.7"/><circle cx="467.0" cy="588.0" r="4.7"/><circle cx="456.4" cy="608.3" r="4.7"/><circle cx="448.8" cy="600.1" r="4.7"/><circle cx="439.9" cy="596.3" r="4.7"/><circle cx="439.9" cy="581.6" r="4.7"/><circle cx="426.9" cy="605.5" r="4.7"/><circle cx="420.0" cy="572.2" r="4.7"/><circle cx="417.5" cy="581.6" r="4.7"/><circle cx="408.9" cy="570.2" r="4.7"/><circle cx="410.4" cy="601.9" r="4.7"/><circle cx="404.8" cy="607.0" r="4.7"/><circle cx="356.0" cy="568.4" r="4.7"/><circle cx="348.9" cy="607.1" r="4.7"/><circle cx="345.8" cy="602.0" r="4.7"/><circle cx="336.7" cy="609.1" r="4.7"/><circle cx="311.8" cy="608.1" r="4.7"/><circle cx="380.3" cy="569.5" r="4.7"/><circle cx="386.4" cy="574.5" r="4.7"/><circle cx="392.5" cy="578.6" r="4.7"/><circle cx="383.4" cy="589.8" r="4.7"/><circle cx="387.5" cy="584.7" r="4.7"/><circle cx="399.7" cy="591.8" r="4.7"/><circle cx="384.4" cy="600.0" r="4.7"/><circle cx="390.5" cy="601.5" r="4.7"/><circle cx="404.2" cy="607.1" r="4.7"/><circle cx="409.8" cy="602.0" r="4.7"/><circle cx="408.3" cy="570.5" r="4.7"/><circle cx="373.2" cy="571.5" r="4.7"/><circle cx="370.2" cy="580.6" r="4.7"/><circle cx="366.1" cy="577.6" r="4.7"/><circle cx="358.0" cy="580.6" r="4.7"/><circle cx="356.0" cy="584.7" r="4.7"/><circle cx="360.0" cy="590.8" r="4.7"/><circle cx="356.0" cy="593.9" r="4.7"/><circle cx="364.1" cy="597.9" r="4.7"/><circle cx="368.2" cy="587.8" r="4.7"/><circle cx="374.3" cy="583.7" r="4.7"/><circle cx="351.9" cy="582.7" r="4.7"/><circle cx="347.8" cy="586.7" r="4.7"/><circle cx="365.1" cy="589.8" r="4.7"/><circle cx="362.0" cy="583.0" r="4.7"/><circle cx="359.0" cy="587.0" r="4.7"/><circle cx="354.0" cy="590.0" r="4.7"/><circle cx="350.0" cy="595.0" r="4.7"/><circle cx="346.0" cy="577.0" r="4.7"/><circle cx="344.0" cy="570.0" r="4.7"/><circle cx="347.0" cy="566.0" r="4.7"/><circle cx="343.0" cy="598.0" r="4.7"/><circle cx="341.0" cy="604.0" r="4.7"/></g>
<line class="rd" x1="409.5" y1="523.0" x2="409.5" y2="651.2"/>
<text transform="translate(409.1 509.2) scale(1.000 1)" font-size="21.6" text-anchor="middle">74.5</text>
<line class="fr" x1="274.7" y1="800.2" x2="289.2" y2="800.2"/>
<text transform="translate(260.8 794.9) scale(1.045 1)" font-size="23.0" text-anchor="end">Procedure Room Time</text>
<text transform="translate(260.8 823.0) scale(1.045 1)" font-size="23.0" text-anchor="end">(n=190)</text>
<text transform="translate(985.7 808.9) scale(1.045 1)" font-size="23.0">35.5 [24.2-65.8]</text>
<rect class="bx" x="345.1" y="747.2" width="53.5" height="106.0"/>
<line class="md" x1="359.7" y1="747.2" x2="359.7" y2="853.2"/>
<line class="wh" x1="320.4" y1="800.2" x2="345.1" y2="800.2"/>
<line class="wh" x1="398.7" y1="800.2" x2="478.7" y2="800.2"/>
<line class="cp" x1="320.4" y1="773.7" x2="320.4" y2="826.7"/>
<line class="cp" x1="478.7" y1="773.7" x2="478.7" y2="826.7"/>
<g class="pt"><circle cx="337.2" cy="792.1" r="4.7"/><circle cx="339.7" cy="785.2" r="4.7"/><circle cx="339.7" cy="816.1" r="4.7"/><circle cx="334.6" cy="791.6" r="4.7"/><circle cx="344.9" cy="816.9" r="4.7"/><circle cx="334.6" cy="792.5" r="4.7"/><circle cx="337.2" cy="817.0" r="4.7"/><circle cx="330.7" cy="786.4" r="4.7"/><circle cx="344.9" cy="821.0" r="4.7"/><circle cx="334.6" cy="801.6" r="4.7"/><circle cx="334.6" cy="787.2" r="4.7"/><circle cx="330.7" cy="806.5" r="4.7"/><circle cx="335.9" cy="809.7" r="4.7"/><circle cx="337.2" cy="819.6" r="4.7"/><circle cx="335.9" cy="815.7" r="4.7"/><circle cx="344.9" cy="816.1" r="4.7"/><circle cx="337.2" cy="808.4" r="4.7"/><circle cx="339.7" cy="796.6" r="4.7"/><circle cx="333.3" cy="788.6" r="4.7"/><circle cx="335.9" cy="784.3" r="4.7"/><circle cx="344.9" cy="787.5" r="4.7"/><circle cx="333.3" cy="809.4" r="4.7"/><circle cx="341.0" cy="807.1" r="4.7"/><circle cx="335.9" cy="794.8" r="4.7"/><circle cx="343.6" cy="801.2" r="4.7"/><circle cx="332.0" cy="804.0" r="4.7"/><circle cx="334.6" cy="820.2" r="4.7"/><circle cx="333.3" cy="807.2" r="4.7"/><circle cx="335.9" cy="784.8" r="4.7"/><circle cx="343.6" cy="783.0" r="4.7"/><circle cx="332.0" cy="797.7" r="4.7"/><circle cx="341.0" cy="782.3" r="4.7"/><circle cx="330.7" cy="779.5" r="4.7"/><circle cx="342.3" cy="791.2" r="4.7"/><circle cx="335.9" cy="797.0" r="4.7"/><circle cx="342.3" cy="782.9" r="4.7"/><circle cx="335.9" cy="820.7" r="4.7"/><circle cx="334.6" cy="789.5" r="4.7"/><circle cx="335.9" cy="810.0" r="4.7"/><circle cx="330.7" cy="787.0" r="4.7"/><circle cx="333.3" cy="820.7" r="4.7"/><circle cx="330.7" cy="805.3" r="4.7"/><circle cx="342.3" cy="795.4" r="4.7"/><circle cx="339.7" cy="781.7" r="4.7"/><circle cx="332.0" cy="802.6" r="4.7"/><circle cx="343.6" cy="817.4" r="4.7"/><circle cx="337.2" cy="806.8" r="4.7"/><circle cx="330.7" cy="800.9" r="4.7"/><circle cx="341.0" cy="813.9" r="4.7"/><circle cx="343.6" cy="807.9" r="4.7"/><circle cx="341.0" cy="810.5" r="4.7"/><circle cx="341.0" cy="786.5" r="4.7"/><circle cx="333.3" cy="783.9" r="4.7"/><circle cx="338.4" cy="789.1" r="4.7"/><circle cx="339.7" cy="802.2" r="4.7"/><circle cx="335.9" cy="812.2" r="4.7"/><circle cx="351.3" cy="790.1" r="4.7"/><circle cx="351.3" cy="815.0" r="4.7"/><circle cx="361.6" cy="790.2" r="4.7"/><circle cx="350.0" cy="804.3" r="4.7"/><circle cx="343.6" cy="803.3" r="4.7"/><circle cx="348.7" cy="792.9" r="4.7"/><circle cx="342.3" cy="804.8" r="4.7"/><circle cx="359.0" cy="800.4" r="4.7"/><circle cx="352.6" cy="815.2" r="4.7"/><circle cx="342.3" cy="782.2" r="4.7"/><circle cx="348.7" cy="803.1" r="4.7"/><circle cx="351.3" cy="805.4" r="4.7"/><circle cx="343.6" cy="792.3" r="4.7"/><circle cx="343.6" cy="808.4" r="4.7"/><circle cx="362.9" cy="812.0" r="4.7"/><circle cx="361.6" cy="782.9" r="4.7"/><circle cx="362.9" cy="786.4" r="4.7"/><circle cx="352.6" cy="789.6" r="4.7"/><circle cx="361.6" cy="808.2" r="4.7"/><circle cx="360.3" cy="781.8" r="4.7"/><circle cx="359.0" cy="798.8" r="4.7"/><circle cx="350.0" cy="808.8" r="4.7"/><circle cx="343.6" cy="784.6" r="4.7"/><circle cx="347.5" cy="785.3" r="4.7"/><circle cx="360.3" cy="801.1" r="4.7"/><circle cx="343.6" cy="779.3" r="4.7"/><circle cx="359.0" cy="816.6" r="4.7"/><circle cx="347.5" cy="783.0" r="4.7"/><circle cx="353.9" cy="799.0" r="4.7"/><circle cx="344.9" cy="820.0" r="4.7"/><circle cx="351.3" cy="791.6" r="4.7"/><circle cx="346.2" cy="802.4" r="4.7"/><circle cx="351.3" cy="796.8" r="4.7"/><circle cx="344.9" cy="818.4" r="4.7"/><circle cx="356.5" cy="792.2" r="4.7"/><circle cx="350.0" cy="780.9" r="4.7"/><circle cx="357.7" cy="803.8" r="4.7"/><circle cx="343.6" cy="810.2" r="4.7"/><circle cx="348.7" cy="798.6" r="4.7"/><circle cx="357.7" cy="818.5" r="4.7"/><circle cx="350.0" cy="795.2" r="4.7"/><circle cx="343.6" cy="788.2" r="4.7"/><circle cx="356.5" cy="789.6" r="4.7"/><circle cx="348.7" cy="799.4" r="4.7"/><circle cx="357.7" cy="788.2" r="4.7"/><circle cx="360.3" cy="811.1" r="4.7"/><circle cx="361.6" cy="798.0" r="4.7"/><circle cx="348.7" cy="815.4" r="4.7"/><circle cx="350.0" cy="801.9" r="4.7"/><circle cx="359.0" cy="782.3" r="4.7"/><circle cx="352.6" cy="794.4" r="4.7"/><circle cx="352.6" cy="805.3" r="4.7"/><circle cx="362.9" cy="786.8" r="4.7"/><circle cx="352.6" cy="800.7" r="4.7"/><circle cx="350.0" cy="790.5" r="4.7"/><circle cx="356.5" cy="781.6" r="4.7"/><circle cx="356.5" cy="785.0" r="4.7"/><circle cx="351.3" cy="809.6" r="4.7"/><circle cx="346.2" cy="780.1" r="4.7"/><circle cx="355.2" cy="814.4" r="4.7"/><circle cx="360.3" cy="782.7" r="4.7"/><circle cx="357.7" cy="792.9" r="4.7"/><circle cx="362.9" cy="807.3" r="4.7"/><circle cx="353.9" cy="795.7" r="4.7"/><circle cx="351.3" cy="799.7" r="4.7"/><circle cx="350.0" cy="785.5" r="4.7"/><circle cx="347.5" cy="780.5" r="4.7"/><circle cx="353.9" cy="796.4" r="4.7"/><circle cx="361.6" cy="802.0" r="4.7"/><circle cx="347.5" cy="800.9" r="4.7"/><circle cx="352.6" cy="792.4" r="4.7"/><circle cx="360.3" cy="807.2" r="4.7"/><circle cx="347.5" cy="816.2" r="4.7"/><circle cx="352.6" cy="801.7" r="4.7"/><circle cx="360.3" cy="796.2" r="4.7"/><circle cx="357.7" cy="800.9" r="4.7"/><circle cx="366.8" cy="788.7" r="4.7"/><circle cx="365.5" cy="794.8" r="4.7"/><circle cx="371.9" cy="788.3" r="4.7"/><circle cx="360.3" cy="814.8" r="4.7"/><circle cx="374.5" cy="805.7" r="4.7"/><circle cx="371.9" cy="779.7" r="4.7"/><circle cx="375.8" cy="820.2" r="4.7"/><circle cx="365.5" cy="806.9" r="4.7"/><circle cx="361.6" cy="817.8" r="4.7"/><circle cx="364.2" cy="802.6" r="4.7"/><circle cx="366.8" cy="807.2" r="4.7"/><circle cx="375.8" cy="815.7" r="4.7"/><circle cx="364.2" cy="812.1" r="4.7"/><circle cx="365.5" cy="783.0" r="4.7"/><circle cx="368.0" cy="784.2" r="4.7"/><circle cx="369.3" cy="781.7" r="4.7"/><circle cx="368.0" cy="818.3" r="4.7"/><circle cx="365.5" cy="800.1" r="4.7"/><circle cx="365.5" cy="788.5" r="4.7"/><circle cx="378.3" cy="796.1" r="4.7"/><circle cx="369.3" cy="811.5" r="4.7"/><circle cx="366.8" cy="807.1" r="4.7"/><circle cx="364.2" cy="801.1" r="4.7"/><circle cx="374.5" cy="793.6" r="4.7"/><circle cx="368.0" cy="813.0" r="4.7"/><circle cx="369.3" cy="803.7" r="4.7"/><circle cx="374.5" cy="815.0" r="4.7"/><circle cx="365.5" cy="808.6" r="4.7"/><circle cx="360.3" cy="817.1" r="4.7"/><circle cx="361.6" cy="794.5" r="4.7"/><circle cx="361.6" cy="817.5" r="4.7"/><circle cx="365.5" cy="781.5" r="4.7"/><circle cx="369.3" cy="814.8" r="4.7"/><circle cx="365.5" cy="798.9" r="4.7"/><circle cx="366.8" cy="816.4" r="4.7"/><circle cx="361.6" cy="780.2" r="4.7"/><circle cx="366.8" cy="792.8" r="4.7"/><circle cx="366.8" cy="803.0" r="4.7"/><circle cx="365.5" cy="813.4" r="4.7"/><circle cx="378.3" cy="787.0" r="4.7"/><circle cx="387.3" cy="795.3" r="4.7"/><circle cx="384.8" cy="819.3" r="4.7"/><circle cx="384.8" cy="780.5" r="4.7"/><circle cx="392.5" cy="818.8" r="4.7"/><circle cx="393.8" cy="782.4" r="4.7"/><circle cx="378.3" cy="805.3" r="4.7"/><circle cx="386.0" cy="804.9" r="4.7"/><circle cx="379.6" cy="790.8" r="4.7"/><circle cx="395.1" cy="798.7" r="4.7"/><circle cx="387.3" cy="795.2" r="4.7"/><circle cx="396.3" cy="795.4" r="4.7"/><circle cx="393.8" cy="784.9" r="4.7"/><circle cx="388.6" cy="790.7" r="4.7"/><circle cx="387.3" cy="794.3" r="4.7"/><circle cx="378.3" cy="785.5" r="4.7"/><circle cx="382.2" cy="790.5" r="4.7"/><circle cx="383.5" cy="807.8" r="4.7"/><circle cx="382.2" cy="801.1" r="4.7"/><circle cx="396.3" cy="802.0" r="4.7"/><circle cx="386.0" cy="779.3" r="4.7"/><circle cx="388.6" cy="799.9" r="4.7"/><circle cx="391.2" cy="811.3" r="4.7"/><circle cx="379.6" cy="805.4" r="4.7"/><circle cx="388.6" cy="816.3" r="4.7"/><circle cx="320.3" cy="797.0" r="4.7"/><circle cx="325.0" cy="784.1" r="4.7"/><circle cx="323.0" cy="806.0" r="4.7"/><circle cx="327.0" cy="815.0" r="4.7"/><circle cx="567.0" cy="805.5" r="4.7"/><circle cx="550.0" cy="786.3" r="4.7"/><circle cx="551.4" cy="796.2" r="4.7"/><circle cx="545.0" cy="795.3" r="4.7"/><circle cx="544.1" cy="808.3" r="4.7"/><circle cx="553.4" cy="810.9" r="4.7"/><circle cx="531.9" cy="792.6" r="4.7"/><circle cx="522.9" cy="784.1" r="4.7"/><circle cx="506.8" cy="784.1" r="4.7"/><circle cx="507.3" cy="784.6" r="4.7"/><circle cx="506.8" cy="813.4" r="4.7"/><circle cx="493.3" cy="779.6" r="4.7"/><circle cx="498.9" cy="794.3" r="4.7"/><circle cx="501.8" cy="800.7" r="4.7"/><circle cx="479.8" cy="782.1" r="4.7"/><circle cx="474.7" cy="783.5" r="4.7"/><circle cx="478.1" cy="796.5" r="4.7"/><circle cx="470.4" cy="793.1" r="4.7"/><circle cx="464.5" cy="804.1" r="4.7"/><circle cx="469.3" cy="813.4" r="4.7"/><circle cx="461.1" cy="813.4" r="4.7"/><circle cx="461.1" cy="819.0" r="4.7"/><circle cx="475.5" cy="819.0" r="4.7"/><circle cx="446.7" cy="814.6" r="4.7"/><circle cx="445.9" cy="784.6" r="4.7"/><circle cx="440.0" cy="791.4" r="4.7"/><circle cx="429.0" cy="782.9" r="4.7"/><circle cx="426.4" cy="787.2" r="4.7"/><circle cx="413.7" cy="780.4" r="4.7"/><circle cx="415.4" cy="795.6" r="4.7"/><circle cx="429.8" cy="797.3" r="4.7"/><circle cx="430.6" cy="804.1" r="4.7"/><circle cx="420.5" cy="805.8" r="4.7"/><circle cx="412.0" cy="812.6" r="4.7"/><circle cx="405.2" cy="818.5" r="4.7"/><circle cx="428.1" cy="815.1" r="4.7"/><circle cx="436.6" cy="819.4" r="4.7"/><circle cx="421.3" cy="809.2" r="4.7"/><circle cx="397.6" cy="812.6" r="4.7"/><circle cx="431.0" cy="799.0" r="4.7"/><circle cx="428.5" cy="801.0" r="4.7"/><circle cx="433.0" cy="796.0" r="4.7"/><circle cx="477.0" cy="786.0" r="4.7"/><circle cx="481.0" cy="790.0" r="4.7"/><circle cx="403.0" cy="790.0" r="4.7"/><circle cx="408.0" cy="800.0" r="4.7"/><circle cx="400.0" cy="806.0" r="4.7"/></g>
<line class="rd" x1="506.6" y1="736.0" x2="506.6" y2="864.2"/>
<text transform="translate(506.2 722.2) scale(1.000 1)" font-size="21.6" text-anchor="middle">150</text>
<line class="fr" x1="274.7" y1="1013.3" x2="289.2" y2="1013.3"/>
<text transform="translate(260.8 1008.0) scale(1.045 1)" font-size="23.0" text-anchor="end">Process Time</text>
<text transform="translate(260.8 1036.1) scale(1.045 1)" font-size="23.0" text-anchor="end">(n=190)</text>
<text transform="translate(985.7 1022.0) scale(1.045 1)" font-size="23.0">19.5 [10.0-34.8]</text>
<rect class="bx" x="326.9" y="960.3" width="31.9" height="106.0"/>
<line class="md" x1="339.1" y1="960.3" x2="339.1" y2="1066.3"/>
<line class="wh" x1="317.9" y1="1013.3" x2="326.9" y2="1013.3"/>
<line class="wh" x1="358.8" y1="1013.3" x2="405.3" y2="1013.3"/>
<line class="cp" x1="317.9" y1="986.8" x2="317.9" y2="1039.8"/>
<line class="cp" x1="405.3" y1="986.8" x2="405.3" y2="1039.8"/>
<g class="pt"><circle cx="324.3" cy="1003.4" r="4.7"/><circle cx="319.1" cy="1029.5" r="4.7"/><circle cx="324.3" cy="1026.1" r="4.7"/><circle cx="321.7" cy="1021.5" r="4.7"/><circle cx="320.4" cy="1032.8" r="4.7"/><circle cx="320.4" cy="999.0" r="4.7"/><circle cx="326.9" cy="1026.1" r="4.7"/><circle cx="323.0" cy="1007.8" r="4.7"/><circle cx="323.0" cy="1007.7" r="4.7"/><circle cx="326.9" cy="1002.3" r="4.7"/><circle cx="321.7" cy="1007.5" r="4.7"/><circle cx="320.4" cy="1030.8" r="4.7"/><circle cx="320.4" cy="1029.2" r="4.7"/><circle cx="319.1" cy="1026.6" r="4.7"/><circle cx="323.0" cy="997.0" r="4.7"/><circle cx="326.9" cy="1013.8" r="4.7"/><circle cx="326.9" cy="994.0" r="4.7"/><circle cx="325.6" cy="1028.8" r="4.7"/><circle cx="317.9" cy="1006.8" r="4.7"/><circle cx="325.6" cy="1013.6" r="4.7"/><circle cx="325.6" cy="1002.9" r="4.7"/><circle cx="323.0" cy="1007.7" r="4.7"/><circle cx="324.3" cy="1000.0" r="4.7"/><circle cx="321.7" cy="1027.7" r="4.7"/><circle cx="320.4" cy="1016.1" r="4.7"/><circle cx="325.6" cy="1019.2" r="4.7"/><circle cx="320.4" cy="1018.5" r="4.7"/><circle cx="323.0" cy="1026.0" r="4.7"/><circle cx="320.4" cy="1000.7" r="4.7"/><circle cx="323.0" cy="1002.0" r="4.7"/><circle cx="320.4" cy="1033.2" r="4.7"/><circle cx="326.9" cy="1016.9" r="4.7"/><circle cx="320.4" cy="1003.6" r="4.7"/><circle cx="323.0" cy="1009.9" r="4.7"/><circle cx="325.6" cy="1008.5" r="4.7"/><circle cx="320.4" cy="994.3" r="4.7"/><circle cx="319.1" cy="1028.9" r="4.7"/><circle cx="321.7" cy="1004.3" r="4.7"/><circle cx="319.1" cy="1009.3" r="4.7"/><circle cx="317.9" cy="1027.3" r="4.7"/><circle cx="326.9" cy="999.5" r="4.7"/><circle cx="319.1" cy="1005.3" r="4.7"/><circle cx="323.0" cy="1001.7" r="4.7"/><circle cx="325.6" cy="1024.4" r="4.7"/><circle cx="325.6" cy="1020.6" r="4.7"/><circle cx="321.7" cy="1015.2" r="4.7"/><circle cx="320.4" cy="1010.9" r="4.7"/><circle cx="319.1" cy="1015.7" r="4.7"/><circle cx="323.0" cy="1029.3" r="4.7"/><circle cx="325.6" cy="997.4" r="4.7"/><circle cx="324.3" cy="1029.4" r="4.7"/><circle cx="323.0" cy="1016.1" r="4.7"/><circle cx="320.4" cy="1003.8" r="4.7"/><circle cx="325.6" cy="1003.8" r="4.7"/><circle cx="321.7" cy="995.7" r="4.7"/><circle cx="321.7" cy="1007.7" r="4.7"/><circle cx="323.0" cy="1015.8" r="4.7"/><circle cx="320.4" cy="995.0" r="4.7"/><circle cx="323.0" cy="1020.5" r="4.7"/><circle cx="317.9" cy="1000.0" r="4.7"/><circle cx="335.9" cy="998.2" r="4.7"/><circle cx="330.7" cy="1033.9" r="4.7"/><circle cx="334.6" cy="1012.6" r="4.7"/><circle cx="334.6" cy="1007.1" r="4.7"/><circle cx="337.2" cy="1008.9" r="4.7"/><circle cx="326.9" cy="1001.3" r="4.7"/><circle cx="338.4" cy="1019.9" r="4.7"/><circle cx="338.4" cy="1002.9" r="4.7"/><circle cx="330.7" cy="1031.7" r="4.7"/><circle cx="330.7" cy="1034.1" r="4.7"/><circle cx="335.9" cy="1016.3" r="4.7"/><circle cx="326.9" cy="999.7" r="4.7"/><circle cx="326.9" cy="1032.0" r="4.7"/><circle cx="337.2" cy="997.3" r="4.7"/><circle cx="328.2" cy="1003.7" r="4.7"/><circle cx="326.9" cy="1023.9" r="4.7"/><circle cx="332.0" cy="994.9" r="4.7"/><circle cx="335.9" cy="992.7" r="4.7"/><circle cx="330.7" cy="995.0" r="4.7"/><circle cx="333.3" cy="992.8" r="4.7"/><circle cx="337.2" cy="1003.4" r="4.7"/><circle cx="330.7" cy="1025.6" r="4.7"/><circle cx="335.9" cy="1009.1" r="4.7"/><circle cx="337.2" cy="1027.1" r="4.7"/><circle cx="328.2" cy="1031.6" r="4.7"/><circle cx="335.9" cy="1009.2" r="4.7"/><circle cx="334.6" cy="1002.8" r="4.7"/><circle cx="338.4" cy="993.3" r="4.7"/><circle cx="338.4" cy="998.2" r="4.7"/><circle cx="333.3" cy="1008.6" r="4.7"/><circle cx="333.3" cy="1013.6" r="4.7"/><circle cx="332.0" cy="1026.4" r="4.7"/><circle cx="333.3" cy="1018.6" r="4.7"/><circle cx="335.9" cy="1007.2" r="4.7"/><circle cx="332.0" cy="995.1" r="4.7"/><circle cx="339.7" cy="1005.8" r="4.7"/><circle cx="328.2" cy="1003.4" r="4.7"/><circle cx="330.7" cy="1023.4" r="4.7"/><circle cx="330.7" cy="994.3" r="4.7"/><circle cx="329.4" cy="1015.2" r="4.7"/><circle cx="339.7" cy="1001.0" r="4.7"/><circle cx="333.3" cy="996.7" r="4.7"/><circle cx="329.4" cy="1008.0" r="4.7"/><circle cx="329.4" cy="1010.4" r="4.7"/><circle cx="326.9" cy="1009.1" r="4.7"/><circle cx="326.9" cy="1009.2" r="4.7"/><circle cx="333.3" cy="1032.2" r="4.7"/><circle cx="330.7" cy="993.2" r="4.7"/><circle cx="329.4" cy="1005.8" r="4.7"/><circle cx="338.4" cy="996.9" r="4.7"/><circle cx="333.3" cy="1010.4" r="4.7"/><circle cx="330.7" cy="1013.3" r="4.7"/><circle cx="329.4" cy="1026.4" r="4.7"/><circle cx="328.2" cy="1020.7" r="4.7"/><circle cx="333.3" cy="1029.3" r="4.7"/><circle cx="333.3" cy="1014.4" r="4.7"/><circle cx="326.9" cy="998.5" r="4.7"/><circle cx="339.7" cy="1020.1" r="4.7"/><circle cx="339.7" cy="994.6" r="4.7"/><circle cx="338.4" cy="1018.2" r="4.7"/><circle cx="335.9" cy="1028.3" r="4.7"/><circle cx="339.7" cy="1010.1" r="4.7"/><circle cx="338.4" cy="1031.1" r="4.7"/><circle cx="328.2" cy="1027.5" r="4.7"/><circle cx="348.7" cy="1010.6" r="4.7"/><circle cx="348.7" cy="1009.9" r="4.7"/><circle cx="347.5" cy="1013.4" r="4.7"/><circle cx="347.5" cy="1017.5" r="4.7"/><circle cx="339.7" cy="1013.9" r="4.7"/><circle cx="339.7" cy="1014.5" r="4.7"/><circle cx="348.7" cy="1011.1" r="4.7"/><circle cx="339.7" cy="1017.3" r="4.7"/><circle cx="346.2" cy="998.7" r="4.7"/><circle cx="348.7" cy="1006.1" r="4.7"/><circle cx="344.9" cy="1023.3" r="4.7"/><circle cx="346.2" cy="1000.2" r="4.7"/><circle cx="348.7" cy="1033.9" r="4.7"/><circle cx="347.5" cy="994.5" r="4.7"/><circle cx="342.3" cy="1023.9" r="4.7"/><circle cx="348.7" cy="997.0" r="4.7"/><circle cx="342.3" cy="1027.6" r="4.7"/><circle cx="342.3" cy="1027.1" r="4.7"/><circle cx="341.0" cy="1013.8" r="4.7"/><circle cx="344.9" cy="995.0" r="4.7"/><circle cx="339.7" cy="1022.2" r="4.7"/><circle cx="344.9" cy="1014.0" r="4.7"/><circle cx="346.2" cy="1011.4" r="4.7"/><circle cx="339.7" cy="1028.7" r="4.7"/><circle cx="343.6" cy="1012.8" r="4.7"/><circle cx="343.6" cy="995.4" r="4.7"/><circle cx="348.7" cy="1025.4" r="4.7"/><circle cx="348.7" cy="1029.1" r="4.7"/><circle cx="341.0" cy="1025.9" r="4.7"/><circle cx="339.7" cy="1024.7" r="4.7"/><circle cx="341.0" cy="1025.8" r="4.7"/><circle cx="342.3" cy="1026.4" r="4.7"/><circle cx="342.3" cy="996.5" r="4.7"/><circle cx="339.7" cy="1031.3" r="4.7"/><circle cx="359.0" cy="1026.0" r="4.7"/><circle cx="353.9" cy="1010.1" r="4.7"/><circle cx="374.5" cy="1009.1" r="4.7"/><circle cx="377.0" cy="1017.7" r="4.7"/><circle cx="369.3" cy="997.0" r="4.7"/><circle cx="375.8" cy="1002.2" r="4.7"/><circle cx="375.8" cy="1006.3" r="4.7"/><circle cx="357.7" cy="1015.6" r="4.7"/><circle cx="366.8" cy="1008.7" r="4.7"/><circle cx="362.9" cy="1020.9" r="4.7"/><circle cx="375.8" cy="1030.2" r="4.7"/><circle cx="377.0" cy="1017.2" r="4.7"/><circle cx="378.3" cy="1002.3" r="4.7"/><circle cx="355.2" cy="1000.8" r="4.7"/><circle cx="373.2" cy="1012.0" r="4.7"/><circle cx="355.2" cy="1004.9" r="4.7"/><circle cx="360.3" cy="1030.1" r="4.7"/><circle cx="374.5" cy="1018.0" r="4.7"/><circle cx="361.6" cy="1001.8" r="4.7"/><circle cx="352.6" cy="1020.6" r="4.7"/><circle cx="378.3" cy="1008.0" r="4.7"/><circle cx="361.6" cy="1023.6" r="4.7"/><circle cx="357.7" cy="999.9" r="4.7"/><circle cx="375.8" cy="1004.4" r="4.7"/><circle cx="364.2" cy="1025.5" r="4.7"/><circle cx="366.8" cy="1004.9" r="4.7"/><circle cx="355.2" cy="1013.5" r="4.7"/><circle cx="353.9" cy="1007.5" r="4.7"/><circle cx="378.3" cy="1010.2" r="4.7"/><circle cx="369.3" cy="1016.3" r="4.7"/><circle cx="389.9" cy="999.0" r="4.7"/><circle cx="389.9" cy="1030.5" r="4.7"/><circle cx="380.9" cy="1020.0" r="4.7"/><circle cx="396.3" cy="1002.9" r="4.7"/><circle cx="397.6" cy="1009.0" r="4.7"/><circle cx="395.1" cy="1017.1" r="4.7"/><circle cx="396.3" cy="1018.6" r="4.7"/><circle cx="392.5" cy="1010.2" r="4.7"/><circle cx="389.9" cy="1016.5" r="4.7"/><circle cx="388.6" cy="1005.4" r="4.7"/><circle cx="378.3" cy="1019.8" r="4.7"/><circle cx="387.3" cy="994.9" r="4.7"/><circle cx="392.5" cy="999.3" r="4.7"/><circle cx="388.6" cy="1009.0" r="4.7"/><circle cx="388.6" cy="1007.3" r="4.7"/><circle cx="401.5" cy="998.3" r="4.7"/><circle cx="382.2" cy="1011.5" r="4.7"/><circle cx="386.0" cy="997.7" r="4.7"/><circle cx="531.2" cy="1021.5" r="4.7"/><circle cx="492.0" cy="1009.3" r="4.7"/><circle cx="467.6" cy="1006.3" r="4.7"/><circle cx="466.8" cy="1032.3" r="4.7"/><circle cx="453.7" cy="1029.9" r="4.7"/><circle cx="444.9" cy="1014.7" r="4.7"/><circle cx="432.7" cy="1022.6" r="4.7"/><circle cx="433.2" cy="1023.0" r="4.7"/><circle cx="423.9" cy="1031.0" r="4.7"/><circle cx="424.5" cy="1029.0" r="4.7"/><circle cx="416.4" cy="1020.8" r="4.7"/><circle cx="413.0" cy="993.7" r="4.7"/><circle cx="396.8" cy="1032.3" r="4.7"/><circle cx="407.6" cy="1022.8" r="4.7"/><circle cx="403.5" cy="994.4" r="4.7"/><circle cx="401.0" cy="1016.0" r="4.7"/><circle cx="399.0" cy="1019.0" r="4.7"/><circle cx="405.0" cy="1013.0" r="4.7"/></g>
<line class="rd" x1="424.2" y1="949.1" x2="424.2" y2="1077.3"/>
<text transform="translate(423.8 935.3) scale(1.000 1)" font-size="21.6" text-anchor="middle">86</text>
<line class="fr" x1="274.7" y1="1226.4" x2="289.2" y2="1226.4"/>
<text transform="translate(260.8 1221.1) scale(1.045 1)" font-size="23.0" text-anchor="end"><tspan letter-spacing=".08">Total Visit Duration</tspan></text>
<text transform="translate(260.8 1249.2) scale(1.045 1)" font-size="23.0" text-anchor="end">(n=191)</text>
<text transform="translate(985.7 1235.1) scale(1.045 1)" font-size="23.0">106.0 [55.0-160.5]</text>
<rect class="bx" x="384.8" y="1173.4" width="135.7" height="106.0"/>
<line class="md" x1="450.4" y1="1173.4" x2="450.4" y2="1279.4"/>
<line class="wh" x1="337.2" y1="1226.4" x2="384.8" y2="1226.4"/>
<line class="wh" x1="520.5" y1="1226.4" x2="648.5" y2="1226.4"/>
<line class="cp" x1="337.2" y1="1199.9" x2="337.2" y2="1252.9"/>
<line class="cp" x1="648.5" y1="1199.9" x2="648.5" y2="1252.9"/>
<g class="pt"><circle cx="351.3" cy="1206.1" r="4.7"/><circle cx="337.2" cy="1235.8" r="4.7"/><circle cx="364.2" cy="1234.7" r="4.7"/><circle cx="337.2" cy="1233.5" r="4.7"/><circle cx="342.3" cy="1225.1" r="4.7"/><circle cx="351.3" cy="1212.6" r="4.7"/><circle cx="357.7" cy="1218.7" r="4.7"/><circle cx="364.2" cy="1232.8" r="4.7"/><circle cx="338.4" cy="1246.2" r="4.7"/><circle cx="337.2" cy="1247.1" r="4.7"/><circle cx="352.6" cy="1223.6" r="4.7"/><circle cx="346.2" cy="1232.7" r="4.7"/><circle cx="365.5" cy="1210.0" r="4.7"/><circle cx="338.4" cy="1208.2" r="4.7"/><circle cx="355.2" cy="1233.0" r="4.7"/><circle cx="362.9" cy="1244.5" r="4.7"/><circle cx="357.7" cy="1247.0" r="4.7"/><circle cx="344.9" cy="1226.3" r="4.7"/><circle cx="342.3" cy="1227.1" r="4.7"/><circle cx="341.0" cy="1236.6" r="4.7"/><circle cx="339.7" cy="1205.6" r="4.7"/><circle cx="362.9" cy="1234.6" r="4.7"/><circle cx="347.5" cy="1233.3" r="4.7"/><circle cx="356.5" cy="1238.0" r="4.7"/><circle cx="341.0" cy="1223.6" r="4.7"/><circle cx="342.3" cy="1206.1" r="4.7"/><circle cx="351.3" cy="1245.1" r="4.7"/><circle cx="337.2" cy="1210.0" r="4.7"/><circle cx="353.9" cy="1227.9" r="4.7"/><circle cx="359.0" cy="1246.3" r="4.7"/><circle cx="341.0" cy="1218.1" r="4.7"/><circle cx="357.7" cy="1229.1" r="4.7"/><circle cx="339.7" cy="1229.3" r="4.7"/><circle cx="342.3" cy="1233.2" r="4.7"/><circle cx="357.7" cy="1226.9" r="4.7"/><circle cx="348.7" cy="1220.2" r="4.7"/><circle cx="346.2" cy="1215.8" r="4.7"/><circle cx="353.9" cy="1225.0" r="4.7"/><circle cx="344.9" cy="1230.1" r="4.7"/><circle cx="343.6" cy="1228.8" r="4.7"/><circle cx="355.2" cy="1211.2" r="4.7"/><circle cx="341.0" cy="1239.4" r="4.7"/><circle cx="357.7" cy="1211.9" r="4.7"/><circle cx="360.3" cy="1227.4" r="4.7"/><circle cx="353.9" cy="1231.4" r="4.7"/><circle cx="365.5" cy="1245.9" r="4.7"/><circle cx="353.9" cy="1239.9" r="4.7"/><circle cx="346.2" cy="1211.9" r="4.7"/><circle cx="341.0" cy="1236.2" r="4.7"/><circle cx="365.5" cy="1221.2" r="4.7"/><circle cx="348.7" cy="1227.7" r="4.7"/><circle cx="337.2" cy="1222.4" r="4.7"/><circle cx="384.8" cy="1218.8" r="4.7"/><circle cx="366.8" cy="1222.2" r="4.7"/><circle cx="377.0" cy="1210.4" r="4.7"/><circle cx="375.8" cy="1227.8" r="4.7"/><circle cx="382.2" cy="1219.9" r="4.7"/><circle cx="384.8" cy="1215.1" r="4.7"/><circle cx="370.6" cy="1229.0" r="4.7"/><circle cx="386.0" cy="1242.6" r="4.7"/><circle cx="369.3" cy="1222.4" r="4.7"/><circle cx="377.0" cy="1217.6" r="4.7"/><circle cx="375.8" cy="1215.8" r="4.7"/><circle cx="368.0" cy="1223.7" r="4.7"/><circle cx="384.8" cy="1222.0" r="4.7"/><circle cx="382.2" cy="1220.1" r="4.7"/><circle cx="369.3" cy="1209.3" r="4.7"/><circle cx="386.0" cy="1209.7" r="4.7"/><circle cx="386.0" cy="1221.9" r="4.7"/><circle cx="378.3" cy="1222.6" r="4.7"/><circle cx="374.5" cy="1233.1" r="4.7"/><circle cx="379.6" cy="1208.6" r="4.7"/><circle cx="395.1" cy="1226.0" r="4.7"/><circle cx="392.5" cy="1226.8" r="4.7"/><circle cx="398.9" cy="1226.1" r="4.7"/><circle cx="388.6" cy="1223.6" r="4.7"/><circle cx="400.2" cy="1236.7" r="4.7"/><circle cx="388.6" cy="1230.5" r="4.7"/><circle cx="395.1" cy="1236.5" r="4.7"/><circle cx="395.1" cy="1236.6" r="4.7"/><circle cx="416.9" cy="1240.0" r="4.7"/><circle cx="410.5" cy="1230.8" r="4.7"/><circle cx="404.1" cy="1219.0" r="4.7"/><circle cx="423.4" cy="1211.1" r="4.7"/><circle cx="416.9" cy="1208.5" r="4.7"/><circle cx="404.1" cy="1214.9" r="4.7"/><circle cx="416.9" cy="1238.7" r="4.7"/><circle cx="423.4" cy="1232.3" r="4.7"/><circle cx="416.9" cy="1222.5" r="4.7"/><circle cx="416.9" cy="1229.3" r="4.7"/><circle cx="404.1" cy="1209.8" r="4.7"/><circle cx="410.5" cy="1239.7" r="4.7"/><circle cx="416.9" cy="1207.7" r="4.7"/><circle cx="410.5" cy="1239.2" r="4.7"/><circle cx="430.7" cy="1232.4" r="4.7"/><circle cx="428.5" cy="1237.5" r="4.7"/><circle cx="428.4" cy="1231.6" r="4.7"/><circle cx="430.0" cy="1244.3" r="4.7"/><circle cx="430.2" cy="1206.3" r="4.7"/><circle cx="431.1" cy="1237.0" r="4.7"/><circle cx="430.0" cy="1205.6" r="4.7"/><circle cx="430.5" cy="1223.0" r="4.7"/><circle cx="430.3" cy="1246.7" r="4.7"/><circle cx="431.0" cy="1208.5" r="4.7"/><circle cx="430.6" cy="1223.9" r="4.7"/><circle cx="430.5" cy="1221.3" r="4.7"/><circle cx="429.6" cy="1223.7" r="4.7"/><circle cx="428.6" cy="1218.8" r="4.7"/><circle cx="450.4" cy="1235.5" r="4.7"/><circle cx="437.5" cy="1244.7" r="4.7"/><circle cx="442.7" cy="1233.0" r="4.7"/><circle cx="446.5" cy="1234.9" r="4.7"/><circle cx="450.4" cy="1211.1" r="4.7"/><circle cx="441.4" cy="1234.0" r="4.7"/><circle cx="449.1" cy="1228.8" r="4.7"/><circle cx="440.1" cy="1210.3" r="4.7"/><circle cx="442.7" cy="1227.9" r="4.7"/><circle cx="437.5" cy="1212.6" r="4.7"/><circle cx="441.4" cy="1225.3" r="4.7"/><circle cx="436.2" cy="1242.3" r="4.7"/><circle cx="443.9" cy="1214.4" r="4.7"/><circle cx="450.4" cy="1243.5" r="4.7"/><circle cx="489.0" cy="1223.9" r="4.7"/><circle cx="514.7" cy="1221.9" r="4.7"/><circle cx="512.1" cy="1225.7" r="4.7"/><circle cx="494.1" cy="1236.1" r="4.7"/><circle cx="463.2" cy="1237.3" r="4.7"/><circle cx="476.1" cy="1214.5" r="4.7"/><circle cx="478.7" cy="1239.3" r="4.7"/><circle cx="501.8" cy="1220.4" r="4.7"/><circle cx="496.7" cy="1238.5" r="4.7"/><circle cx="504.4" cy="1221.9" r="4.7"/><circle cx="496.7" cy="1230.0" r="4.7"/><circle cx="486.4" cy="1220.7" r="4.7"/><circle cx="496.7" cy="1212.3" r="4.7"/><circle cx="507.0" cy="1245.6" r="4.7"/><circle cx="476.1" cy="1210.0" r="4.7"/><circle cx="489.0" cy="1215.7" r="4.7"/><circle cx="471.0" cy="1220.4" r="4.7"/><circle cx="483.8" cy="1229.4" r="4.7"/><circle cx="471.0" cy="1243.3" r="4.7"/><circle cx="514.7" cy="1239.4" r="4.7"/><circle cx="481.3" cy="1216.1" r="4.7"/><circle cx="465.8" cy="1223.7" r="4.7"/><circle cx="499.3" cy="1209.0" r="4.7"/><circle cx="463.2" cy="1245.4" r="4.7"/><circle cx="491.6" cy="1224.6" r="4.7"/><circle cx="489.0" cy="1211.1" r="4.7"/><circle cx="463.2" cy="1236.5" r="4.7"/><circle cx="458.1" cy="1233.6" r="4.7"/><circle cx="491.6" cy="1240.3" r="4.7"/><circle cx="453.0" cy="1246.1" r="4.7"/><circle cx="478.7" cy="1229.1" r="4.7"/><circle cx="494.1" cy="1226.0" r="4.7"/><circle cx="489.0" cy="1212.5" r="4.7"/><circle cx="512.1" cy="1220.7" r="4.7"/><circle cx="473.5" cy="1210.3" r="4.7"/><circle cx="514.7" cy="1212.6" r="4.7"/><circle cx="465.8" cy="1240.8" r="4.7"/><circle cx="509.6" cy="1230.8" r="4.7"/><circle cx="458.1" cy="1212.9" r="4.7"/><circle cx="465.8" cy="1229.7" r="4.7"/><circle cx="478.7" cy="1234.0" r="4.7"/><circle cx="478.7" cy="1210.8" r="4.7"/><circle cx="514.7" cy="1235.1" r="4.7"/><circle cx="473.5" cy="1230.7" r="4.7"/><circle cx="517.3" cy="1235.5" r="4.7"/><circle cx="471.0" cy="1210.8" r="4.7"/><circle cx="478.7" cy="1207.2" r="4.7"/><circle cx="494.1" cy="1242.0" r="4.7"/><circle cx="504.4" cy="1218.1" r="4.7"/><circle cx="471.0" cy="1228.8" r="4.7"/><circle cx="471.0" cy="1225.8" r="4.7"/><circle cx="471.0" cy="1207.6" r="4.7"/><circle cx="514.7" cy="1217.5" r="4.7"/><circle cx="491.6" cy="1212.5" r="4.7"/><circle cx="481.3" cy="1212.8" r="4.7"/><circle cx="519.9" cy="1228.2" r="4.7"/><circle cx="460.7" cy="1230.8" r="4.7"/><circle cx="494.1" cy="1238.4" r="4.7"/><circle cx="463.2" cy="1227.8" r="4.7"/><circle cx="504.4" cy="1234.5" r="4.7"/><circle cx="496.7" cy="1237.4" r="4.7"/><circle cx="471.0" cy="1218.7" r="4.7"/><circle cx="536.6" cy="1243.0" r="4.7"/><circle cx="534.0" cy="1232.2" r="4.7"/><circle cx="541.7" cy="1216.3" r="4.7"/><circle cx="537.9" cy="1233.5" r="4.7"/><circle cx="534.0" cy="1235.1" r="4.7"/><circle cx="545.6" cy="1226.6" r="4.7"/><circle cx="543.0" cy="1235.0" r="4.7"/><circle cx="528.9" cy="1210.3" r="4.7"/><circle cx="541.7" cy="1211.6" r="4.7"/><circle cx="546.9" cy="1235.6" r="4.7"/><circle cx="531.4" cy="1241.7" r="4.7"/><circle cx="523.7" cy="1242.9" r="4.7"/><circle cx="523.7" cy="1214.8" r="4.7"/><circle cx="534.0" cy="1219.2" r="4.7"/><circle cx="525.0" cy="1209.7" r="4.7"/><circle cx="546.9" cy="1232.7" r="4.7"/><circle cx="525.0" cy="1208.5" r="4.7"/><circle cx="543.0" cy="1212.8" r="4.7"/><circle cx="546.9" cy="1244.4" r="4.7"/><circle cx="540.4" cy="1228.0" r="4.7"/><circle cx="536.6" cy="1227.4" r="4.7"/><circle cx="526.3" cy="1210.7" r="4.7"/><circle cx="548.2" cy="1220.9" r="4.7"/><circle cx="539.2" cy="1242.6" r="4.7"/><circle cx="548.2" cy="1211.3" r="4.7"/><circle cx="525.0" cy="1225.9" r="4.7"/><circle cx="522.4" cy="1233.8" r="4.7"/><circle cx="519.9" cy="1228.6" r="4.7"/><circle cx="589.9" cy="1206.2" r="4.7"/><circle cx="589.9" cy="1216.2" r="4.7"/><circle cx="583.9" cy="1235.2" r="4.7"/><circle cx="580.0" cy="1244.1" r="4.7"/><circle cx="606.5" cy="1213.3" r="4.7"/><circle cx="615.9" cy="1210.9" r="4.7"/><circle cx="610.6" cy="1229.9" r="4.7"/><circle cx="629.0" cy="1207.9" r="4.7"/><circle cx="627.2" cy="1219.8" r="4.7"/><circle cx="623.1" cy="1227.5" r="4.7"/><circle cx="623.1" cy="1237.6" r="4.7"/><circle cx="641.4" cy="1220.4" r="4.7"/><circle cx="649.1" cy="1219.8" r="4.7"/><circle cx="641.4" cy="1229.9" r="4.7"/><circle cx="576.8" cy="1218.0" r="4.7"/><circle cx="572.1" cy="1222.7" r="4.7"/><circle cx="564.4" cy="1219.2" r="4.7"/><circle cx="556.7" cy="1215.6" r="4.7"/><circle cx="544.8" cy="1209.1" r="4.7"/><circle cx="547.8" cy="1213.9" r="4.7"/><circle cx="560.8" cy="1245.9" r="4.7"/><circle cx="551.3" cy="1247.6" r="4.7"/><circle cx="565.6" cy="1232.2" r="4.7"/><circle cx="559.6" cy="1235.8" r="4.7"/><circle cx="541.3" cy="1244.7" r="4.7"/><circle cx="532.4" cy="1245.3" r="4.7"/><circle cx="540.7" cy="1227.5" r="4.7"/><circle cx="538.0" cy="1224.0" r="4.7"/><circle cx="543.0" cy="1230.0" r="4.7"/><circle cx="541.5" cy="1221.0" r="4.7"/><circle cx="546.0" cy="1236.0" r="4.7"/><circle cx="536.0" cy="1233.0" r="4.7"/><circle cx="553.0" cy="1228.0" r="4.7"/><circle cx="728.0" cy="1214.6" r="4.7"/><circle cx="908.1" cy="1221.2" r="4.7"/><circle cx="932.3" cy="1227.4" r="4.7"/></g>
<line class="rd" x1="619.2" y1="1162.2" x2="619.2" y2="1290.4"/>
<text transform="translate(618.8 1148.4) scale(1.000 1)" font-size="21.6" text-anchor="middle">237.5</text>
<rect x="571" y="53.7" width="280" height="63" fill="#fff" stroke="#333" stroke-width="1.6"/>
<line class="rd" x1="594.2" y1="85.2" x2="640.2" y2="85.2"/>
<text transform="translate(666.0 95.3) scale(1.045 1)" font-size="25.0">95th Percentile</text>
<text transform="translate(1047.0 54.5) scale(1.045 1)" font-size="23.0" text-anchor="middle">Median [IQR]</text>
<text transform="translate(1047.0 83.0) scale(1.045 1)" font-size="23.0" text-anchor="middle">minutes</text>
</svg></body></html>
